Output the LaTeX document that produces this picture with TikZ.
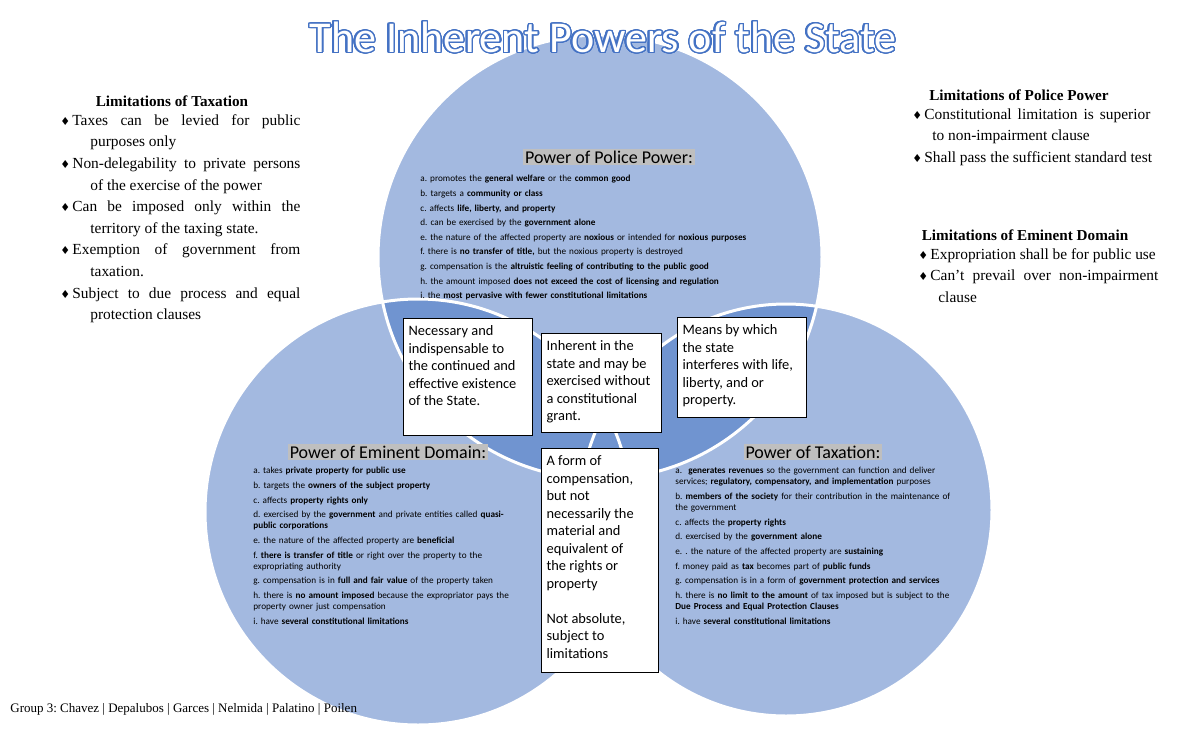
\documentclass[tikz,border=0pt]{standalone}
\usepackage{fontspec}
\setmainfont{Liberation Serif}
\newfontfamily\calfont{Carlito}
\newfontfamily\djv{DejaVu Sans}
\usepackage{contour}
\contourlength{0.7pt}
\contournumber{32}
\definecolor{lite}{RGB}{163,185,224}
\definecolor{dark}{RGB}{112,148,208}
\definecolor{ttl}{RGB}{68,114,196}
\definecolor{hdbg}{RGB}{191,191,191}
\frenchspacing
\hyphenpenalty=10000
\hbadness=10000
\hfuzz=20pt
\newcommand\bxt[3]{\parbox[t][#1][t]{#2}{\raggedright\strut#3}}
\begin{document}
\begin{tikzpicture}[x=0.5pt,y=-0.5pt,
  lst/.style={anchor=north west,align=left,font=\calfont\fontsize{4.6}{5.6}\selectfont,inner sep=0pt,text width=#1},
  hd/.style={fill=hdbg,inner sep=1pt,font=\calfont\fontsize{9}{10}\selectfont},
  bx/.style={draw=black,fill=white,line width=0.6pt,anchor=north west,inner sep=2.5pt,font=\calfont\fontsize{7.2}{8.75}\selectfont},
  side/.style={anchor=north west,inner sep=0pt,align=justify,font=\fontsize{7.7}{10.8}\selectfont,text width=#1},
  shd/.style={font=\bfseries\fontsize{7.6}{10}\selectfont}]
\useasboundingbox (0,0) rectangle (1200,729);
\fill[white] (0,0) rectangle (1200,729);
\coordinate (cT) at (600,257); \coordinate (cL) at (418,512); \coordinate (cR) at (786,510);
\def\rT{222}\def\rL{213}\def\rR{206}
\fill[lite] (cT) circle[radius=\rT] (cL) circle[radius=\rL] (cR) circle[radius=\rR];
\begin{scope}\clip (cT) circle[radius=\rT]; \fill[dark] (cL) circle[radius=\rL] (cR) circle[radius=\rR];\end{scope}
\begin{scope}\clip (cL) circle[radius=\rL]; \fill[dark] (cR) circle[radius=\rR];\end{scope}
\draw[white,line width=1.5pt] (cT) circle[radius=\rT] (cL) circle[radius=\rL] (cR) circle[radius=\rR];
\node (title) at (603,38) {\calfont\fontsize{22}{24}\selectfont\contour{ttl}{\textcolor{white}{The Inherent Powers of the State}}};
\def\sk{\\[1.7pt]}
% police
\node[hd] (hP) at (609,157) {Power of Police Power:};
\node[lst=180pt] (lP) at (420,175) {a. promotes the \textbf{general welfare} or the \textbf{common good}\sk
b. targets a \textbf{community or class}\sk
c. affects \textbf{life, liberty, and property}\sk
d. can be exercised by the \textbf{government alone}\sk
e. the nature of the affected property are \textbf{noxious} or intended for \textbf{noxious purposes}\sk
f. there is \textbf{no transfer of title,} but the noxious property is destroyed\sk
g. compensation is the \textbf{altruistic feeling of contributing to the public good}\sk
h. the amount imposed \textbf{does not exceed the cost of licensing and regulation}\sk
i. the \textbf{most pervasive with fewer constitutional limitations}};
% eminent
\node[hd] (hE) at (388,452) {Power of Eminent Domain:};
\node[lst=130pt] (lE) at (253,467) {a. takes \textbf{private property for public use}\sk
b. targets the \textbf{owners of the subject property}\sk
c. affects \textbf{property rights only}\sk
d. exercised by the \textbf{government} and private entities called \textbf{quasi-}\\\textbf{public corporations}\sk
e. the nature of the affected property are \textbf{beneficial}\sk
f. \textbf{there is transfer of title} or right over the property to the expropriating authority\sk
g. compensation is in \textbf{full and fair value} of the property taken\sk
h. there is \textbf{no amount imposed} because the expropriator pays the property owner just compensation\sk
i. have \textbf{several constitutional limitations}};
% taxation
\node[hd] (hX) at (813,452) {Power of Taxation:};
\node[lst=138pt] (lX) at (675,467) {a.\ \ \textbf{generates revenues} so the government can function and deliver services; \textbf{regulatory, compensatory, and implementation} purposes\sk
b. \textbf{members of the society} for their contribution in the maintenance of the government\sk
c. affects the \textbf{property rights}\sk
d. exercised by the \textbf{government alone}\sk
e. . the nature of the affected property are \textbf{sustaining}\sk
f. money paid as \textbf{tax} becomes part of \textbf{public funds}\sk
g. compensation is in a form of \textbf{government protection and services}\sk
h. there is \textbf{no limit to the amount} of tax imposed but is subject to the \textbf{Due Process and Equal Protection Clauses}\sk
i. have \textbf{several constitutional limitations}};
% boxes
\node[bx] (b1) at (403,318) {\bxt{53.5pt}{59.5pt}{Necessary and\\indispensable to\\the continued and\\effective existence\\of the State.}};
\node[bx] (b2) at (541,333) {\bxt{44.5pt}{55pt}{Inherent in the\\state and may be\\exercised without\\a constitutional\\grant.}};
\node[bx] (b3) at (677,317) {\bxt{45pt}{59.5pt}{Means by which\\the state\\interferes with life,\\liberty, and or\\property.}};
\node[bx] (b4) at (541,448) {\bxt{107pt}{53.5pt}{A form of\\compensation,\\but not\\necessarily the\\material and\\equivalent of\\the rights or\\property\\[8.75pt]Not absolute,\\subject to\\limitations}};
% side texts
\newcommand\bitem[2]{\noindent\hangindent=#1\hangafter=1\makebox[6pt][l]{\djv\fontsize{5.5}{6}\selectfont ♦}#2\par}
\node[shd] (tT) at (172,101) {Limitations of Taxation};
\node[side=120pt] (sT) at (60,114) {%
\bitem{15pt}{Taxes can be levied for public\linebreak purposes only}
\bitem{15pt}{Non-delegability to private persons\linebreak of the exercise of the power}
\bitem{15pt}{Can be imposed only within the\linebreak territory of the taxing state.}
\bitem{15pt}{Exemption of government from\linebreak taxation.}
\bitem{15pt}{Subject to due process and equal\linebreak protection clauses}};
\node[shd] (tP) at (1019,95) {Limitations of Police Power};
\node[side=119pt] (sP) at (912,108) {%
\bitem{10pt}{Constitutional limitation is superior\linebreak to non-impairment clause}
\bitem{10pt}{\mbox{Shall pass the sufficient standard test}}};
\node[shd] (tE) at (1025,235) {Limitations of Eminent Domain};
\node[side=120pt] (sE) at (918,248) {%
\bitem{10pt}{\mbox{Expropriation shall be for public use}}
\bitem{10pt}{Can't prevail over non-impairment\linebreak clause}};
\node[anchor=west,inner sep=0pt,font=\fontsize{6.5}{7}\selectfont] (ft) at (10,709) {Group 3: Chavez | Depalubos | Garces | Nelmida | Palatino | Poilen};
\end{tikzpicture}
\end{document}
